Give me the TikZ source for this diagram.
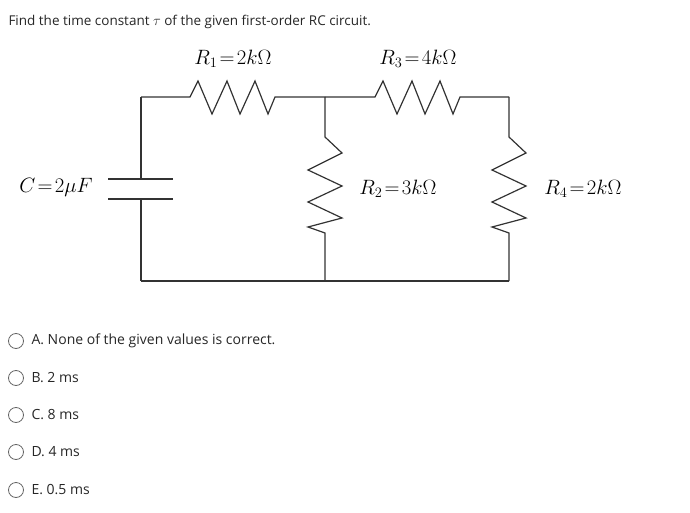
\documentclass[tikz,border=0pt]{standalone}
\usepackage{fontspec}
\setmainfont{Open Sans}
\newfontfamily\lmr{Latin Modern Roman}
\begin{document}
\begin{tikzpicture}[x=1pt,y=-1pt,
  w/.style={line width=1.2pt,black!80},
  lab/.style={font=\fontsize{22}{24}\selectfont\lmr},
  opt/.style={anchor=west,font=\fontsize{14}{16}\selectfont,text=black!85},
  rad/.style={draw=black!60,line width=0.8pt,circle,minimum size=15pt,inner sep=0pt}]
\useasboundingbox (0,0) rectangle (690,513);
\node[anchor=west,font=\fontsize{13.5}{15}\selectfont,text=black!85] (title) at (5,22) {Find the time constant $\tau$ of the given first-order RC circuit.};
\coordinate (tl) at (141,97); \coordinate (bl) at (141,281);
\coordinate (tm) at (325,97); \coordinate (bm) at (325,281);
\coordinate (tr) at (509,97); \coordinate (br) at (509,281);
\coordinate (c1) at (141,179); \coordinate (c2) at (141,199);
% left branch with capacitor
\draw[w] (tl) -- (c1); \draw[w] (c2) -- (bl);
\draw[w] (108,179) -- (173,179);
\draw[w] (108,199) -- (173,199);
% bottom
\draw[w] (bl) -- (bm) -- (br);
% R1
\draw[w] (tl) -- (190,97) -- (198,81) -- (212,114) -- (227,81) -- (240,114) -- (255,81) -- (268,114) -- (275,97) -- (tm);
% R3
\draw[w] (tm) -- (375,97) -- (383,81) -- (397,114) -- (412,81) -- (425,114) -- (440,81) -- (453,114) -- (460,97) -- (tr);
% R2
\draw[w] (tm) -- (325,137) -- (342,153) -- (308,170) -- (342,186) -- (308,202) -- (342,218) -- (308,227) -- (325,233) -- (bm);
% R4
\draw[w] (tr) -- (509,137) -- (526,153) -- (492,170) -- (526,186) -- (492,202) -- (526,218) -- (492,227) -- (509,233) -- (br);
\node[lab] (lr1) at (233,59) {$R_1\!=\!2k\Omega$};
\node[lab] (lr3) at (418,59) {$R_3\!=\!4k\Omega$};
\node[lab] (lr2) at (398,189) {$R_2\!=\!3k\Omega$};
\node[lab] (lr4) at (583,189) {$R_4\!=\!2k\Omega$};
\node[lab] (lc) at (56,187) {$C\!=\!2\mu F$};
\foreach \y/\t [count=\i] in {341/A. None of the given values is correct.,378/B. 2 ms,415/C. 8 ms,452/D. 4 ms,490/E. 0.5 ms}{
  \node[rad] (r\i) at (16,\y) {};
  \node[opt] (o\i) at (28,\y) {\t};
}
\end{tikzpicture}
\end{document}
